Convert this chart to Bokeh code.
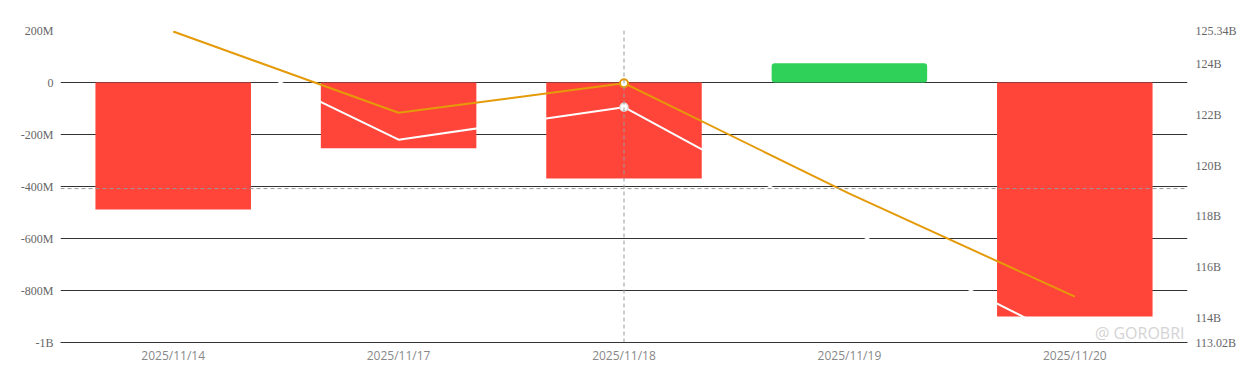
from bokeh.plotting import figure
from bokeh.models import (FactorRange, Range1d, LinearAxis, FixedTicker,
                          CustomJSTickFormatter, Span, ColumnDataSource, Label)
from bokeh.embed import file_html
from bokeh.resources import INLINE

# ---- data ----
dates = ["2025/11/14", "2025/11/17", "2025/11/18", "2025/11/19", "2025/11/20"]
net_flow = [-488e6, -253e6, -369e6, 74e6, -900e6]          # bars, left axis
orange_vals = [125.30, 122.09, 123.26, 118.90, 114.83]      # line, right axis (B)
white_vals = [125.34, 121.03, 122.31, 117.48, 113.02]       # line, right axis (B)
left_ticks = [-1e9, -8e8, -6e8, -4e8, -2e8, 0, 2e8]
right_ticks = [113.02, 114, 116, 118, 120, 122, 124, 125.34]
hover_index = 2
cross_y = -4.08e8
watermark = "@ GOROBRI"

RED = "#FF453A"
GREEN = "#30D158"
ORANGE = "#E59A08"

p = figure(width=1247, height=372,
           x_range=FactorRange(factors=dates, range_padding=0),
           y_range=Range1d(left_ticks[0], left_ticks[-1]),
           output_backend="svg", toolbar_location=None,
           min_border_left=60, min_border_right=60,
           min_border_top=30, min_border_bottom=30)
p.extra_y_ranges = {"r": Range1d(right_ticks[0], right_ticks[-1])}
p.outline_line_color = None
p.background_fill_color = "white"

neg = ColumnDataSource(dict(x=[d for d, v in zip(dates, net_flow) if v < 0],
                            top=[0 for v in net_flow if v < 0],
                            bottom=[v for v in net_flow if v < 0]))
pos = ColumnDataSource(dict(x=[d for d, v in zip(dates, net_flow) if v >= 0],
                            top=[v for v in net_flow if v >= 0],
                            bottom=[0 for v in net_flow if v >= 0]))
p.vbar(x="x", top="top", bottom="bottom", width=0.69, source=neg,
       fill_color=RED, line_color=None)
p.vbar(x="x", top="top", bottom="bottom", width=0.69, source=pos,
       fill_color=GREEN, line_color=None, border_radius=3)

p.line(dates, white_vals, y_range_name="r", line_color="white", line_width=2)
p.line(dates, orange_vals, y_range_name="r", line_color=ORANGE, line_width=2)

# hover crosshair
p.add_layout(Span(location=hover_index + 0.5, dimension="height",
                  line_color="#999999", line_dash="4 3", line_width=1))
p.add_layout(Span(location=cross_y, dimension="width",
                  line_color="#999999", line_dash="4 3", line_width=1))
p.scatter([dates[hover_index]], [white_vals[hover_index]], y_range_name="r",
          size=8, fill_color="white", line_color="#dddddd", line_width=1.5)
p.scatter([dates[hover_index]], [orange_vals[hover_index]], y_range_name="r",
          size=8, fill_color="white", line_color=ORANGE, line_width=2)

# axes
p.xgrid.visible = False
p.ygrid.grid_line_color = "#333333"
p.ygrid.grid_line_width = 1

ya = p.yaxis[0]
ya.ticker = FixedTicker(ticks=left_ticks)
ya.formatter = CustomJSTickFormatter(code="""
if (tick == 0) return "0";
if (Math.abs(tick) >= 1e9) return (tick/1e9) + "B";
return (tick/1e6) + "M";
""")
ya.axis_line_color = None
ya.major_tick_line_color = None
ya.major_tick_out = 0
ya.minor_tick_line_color = None
ya.major_label_standoff = 7
ya.major_label_text_font = "Liberation Serif"
ya.major_label_text_font_size = "12px"
ya.major_label_text_color = "#666666"

ra = LinearAxis(y_range_name="r", ticker=FixedTicker(ticks=right_ticks),
                formatter=CustomJSTickFormatter(code='return tick + "B";'))
ra.axis_line_color = None
ra.major_tick_line_color = None
ra.major_tick_out = 0
ra.minor_tick_line_color = None
ra.major_label_standoff = 8
ra.major_label_text_font = "Liberation Serif"
ra.major_label_text_font_size = "12px"
ra.major_label_text_color = "#666666"
p.add_layout(ra, "right")

xa = p.xaxis[0]
xa.axis_line_color = "#333333"
xa.major_tick_line_color = None
xa.major_tick_out = 0
xa.minor_tick_line_color = None
xa.major_label_standoff = 4
xa.major_label_text_font = "Open Sans"
xa.major_label_text_font_size = "12px"
xa.major_label_text_color = "#888888"

# faint watermark, kept inside the plot frame (bottom-right)
p.add_layout(Label(x=1124, y=10, x_units="screen", y_units="screen",
                   text=watermark,
                   text_color="#d4d4d4", text_font="Open Sans",
                   text_font_size="16px", text_baseline="middle",
                   text_align="right"))

open("out.html", "w").write(file_html(p, INLINE))
